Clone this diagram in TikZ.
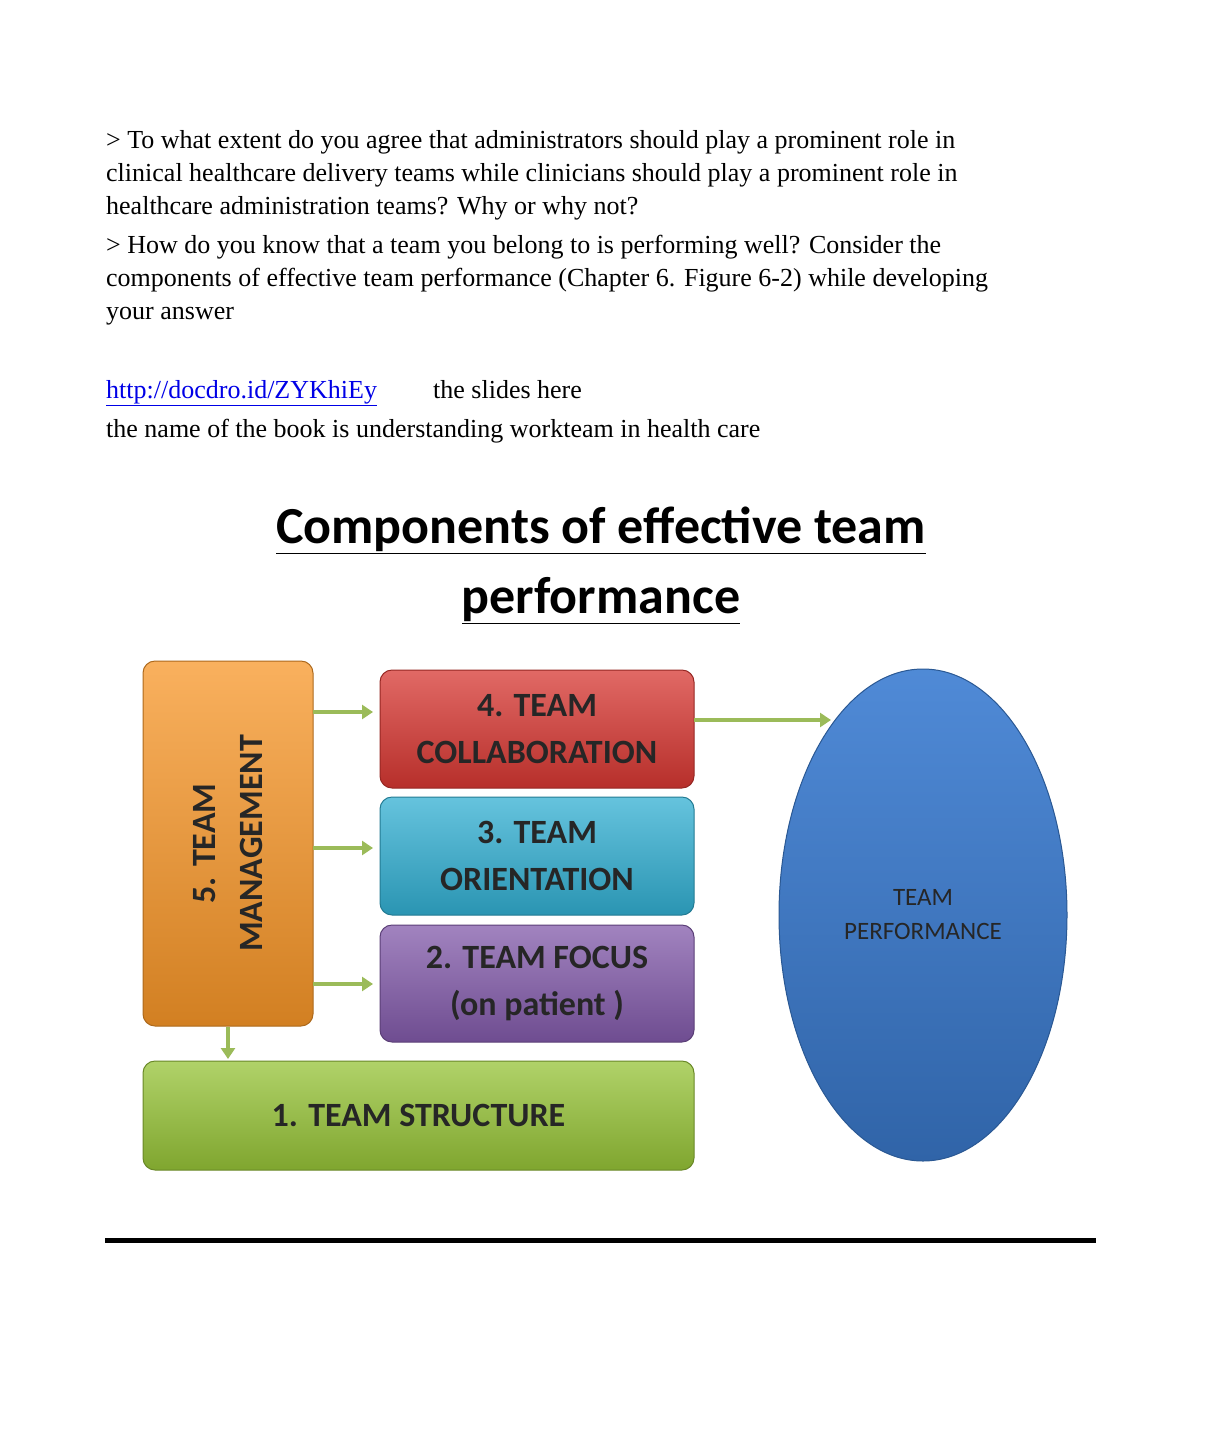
\documentclass[tikz,border=0pt]{standalone}
\usepackage{fontspec}
\setmainfont{Liberation Serif}
\newfontfamily\carl{Carlito}
\usetikzlibrary{shapes.geometric,arrows.meta}
\definecolor{linkblue}{RGB}{0,0,230}
\definecolor{arrg}{RGB}{155,187,89}
\tikzset{
 qline/.style={anchor=base west,inner sep=0,font=\fontsize{26}{26}\selectfont},
 boxx/.style={draw=#1!70!black,line width=1pt,rounded corners=12pt,top color=#1!75!white,bottom color=#1!85!black,align=center,font=\carl\bfseries\fontsize{34}{47}\selectfont,text=black!85,inner sep=0},
 garrow/.style={draw=arrg,line width=3.5pt,-{Triangle[length=11pt,width=14pt]}}
}
\definecolor{orng}{RGB}{247,150,40}
\definecolor{redb}{RGB}{215,55,50}
\definecolor{cyanb}{RGB}{50,175,210}
\definecolor{purp}{RGB}{130,90,170}
\definecolor{grn}{RGB}{150,195,55}
\definecolor{blu}{RGB}{60,125,210}
\begin{document}
\begin{tikzpicture}[x=1pt,y=-1pt]
\useasboundingbox (0,0) rectangle (1217,1438);
\node[qline] (l1) at (106,148) {> To what extent do you agree that administrators should play a prominent role in};
\node[qline] (l2) at (106,181) {clinical healthcare delivery teams while clinicians should play a prominent role in};
\node[qline] (l3) at (106,214) {healthcare administration teams? Why or why not?};
\node[qline] (l4) at (106,253) {> How do you know that a team you belong to is performing well? Consider the};
\node[qline] (l5) at (106,286) {components of effective team performance (Chapter 6. Figure 6-2) while developing};
\node[qline] (l6) at (106,319) {your answer};
\node[qline,text=linkblue] (lk) at (106,398) {\underline{http://docdro.id/ZYKhiEy}};
\node[qline] (sl) at (433,398) {the slides here};
\node[qline] (l7) at (106,437) {the name of the book is understanding workteam in health care};
\node[font=\carl\bfseries\fontsize{52}{70}\selectfont,align=center,inner sep=0] (title) at (601,565) {\underline{Components of effective team}\\\underline{performance}};
\node[boxx=orng,minimum width=170pt,minimum height=365pt] (b5) at (228,843.5) {};
\node[rotate=90,align=center,font=\carl\bfseries\fontsize{34}{47}\selectfont,text=black!85] (t5) at (228,843.5) {5. TEAM\\MANAGEMENT};
\node[boxx=redb,minimum width=314pt,minimum height=118pt] (b4) at (537,729) {4. TEAM\\COLLABORATION};
\node[boxx=cyanb,minimum width=314pt,minimum height=118pt] (b3) at (537,856) {3. TEAM\\ORIENTATION};
\node[boxx=purp,minimum width=314pt,minimum height=117pt] (b2) at (537,983.5) {2. TEAM FOCUS\\(on patient )};
\node[boxx=grn,minimum width=551pt,minimum height=109pt] (b1) at (418.5,1115.5) {1. TEAM STRUCTURE};
\node[ellipse,draw=blu!70!black,line width=1pt,top color=blu!90!white,bottom color=blu!80!black,minimum width=288pt,minimum height=492pt,inner sep=0,align=center,font=\carl\fontsize{25}{34}\selectfont,text=black!85] (tp) at (923,915) {TEAM\\PERFORMANCE};
\coordinate (a1) at (313,712); \coordinate (a1e) at (373,712);
\coordinate (a2) at (313,848); \coordinate (a2e) at (373,848);
\coordinate (a3) at (313,984); \coordinate (a3e) at (373,984);
\draw[garrow] (a1) -- (a1e);
\draw[garrow] (a2) -- (a2e);
\draw[garrow] (a3) -- (a3e);
\draw[garrow] (694,720) -- (831,720);
\draw[garrow] (b5.south) -- (228,1059);
\draw[line width=5pt] (105,1240) -- (1096,1240);
\end{tikzpicture}
\end{document}
